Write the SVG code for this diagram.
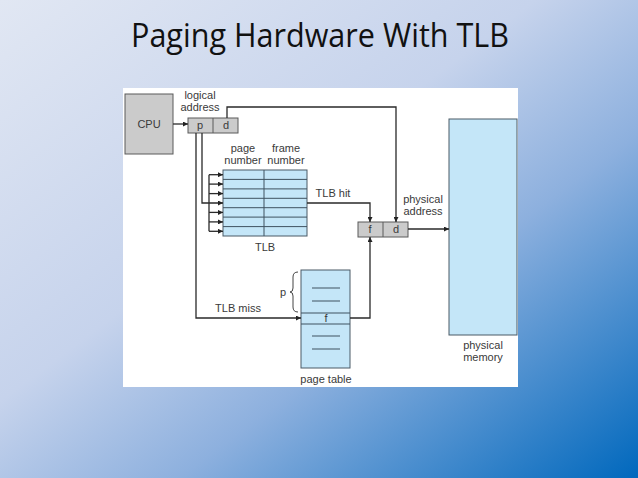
<svg xmlns="http://www.w3.org/2000/svg" width="638" height="478" viewBox="0 0 638 478">
<defs>
<linearGradient id="bg" x1="0" y1="0" x2="1" y2="1">
<stop offset="0" stop-color="#e1e7f3"/>
<stop offset="0.42" stop-color="#c6d3ec"/>
<stop offset="0.64" stop-color="#8db0de"/>
<stop offset="1" stop-color="#0068bd"/>
</linearGradient>
<marker id="ah" viewBox="0 0 10 10" refX="10" refY="5" markerWidth="5" markerHeight="5" markerUnits="userSpaceOnUse" orient="auto">
<path d="M0,0 L10,5 L0,10 z" fill="#222"/>
</marker>
<style>
.t{font-family:"Liberation Sans",Arial,sans-serif;font-size:11px;fill:#3a3a3a;text-anchor:middle}
.gray{fill:#cbcbcb;stroke:#5a5a5a;stroke-width:1}
.blue{fill:#c4e6f8;stroke:#4a5a66;stroke-width:1}
.ln{fill:none;stroke:#2a2a2a;stroke-width:1.3}
.row{stroke:#3f5260;stroke-width:1}
</style>
</defs>
<rect width="638" height="478" fill="url(#bg)"/>
<text x="320" y="47" font-family="'Open Sans','Noto Sans',sans-serif" font-size="33" fill="#111" text-anchor="middle" textLength="378" lengthAdjust="spacingAndGlyphs">Paging Hardware With TLB</text>
<rect x="123" y="88" width="395" height="299" fill="#ffffff"/>

<g id="cpu">
<rect class="gray" x="125" y="94" width="48" height="60"/>
<text class="t" x="149" y="128">CPU</text>
</g>

<g id="logical-address">
<text class="t" x="200" y="99">logical</text>
<text class="t" x="200" y="111">address</text>
<rect class="gray" x="188" y="118" width="50" height="15"/>
<line x1="213" y1="118" x2="213" y2="133" stroke="#5a5a5a"/>
<text class="t" x="200" y="129">p</text>
<text class="t" x="226" y="129">d</text>
</g>

<g id="tlb">
<text class="t" x="243" y="152">page</text>
<text class="t" x="243" y="164">number</text>
<text class="t" x="286" y="152">frame</text>
<text class="t" x="286" y="164">number</text>
<rect class="blue" x="223" y="170" width="84" height="66"/>
<line class="row" x1="223" y1="179.4" x2="307" y2="179.4"/>
<line class="row" x1="223" y1="188.9" x2="307" y2="188.9"/>
<line class="row" x1="223" y1="198.3" x2="307" y2="198.3"/>
<line class="row" x1="223" y1="207.7" x2="307" y2="207.7"/>
<line class="row" x1="223" y1="217.1" x2="307" y2="217.1"/>
<line class="row" x1="223" y1="226.6" x2="307" y2="226.6"/>
<line class="row" x1="264" y1="170" x2="264" y2="236"/>
<text class="t" x="265" y="251">TLB</text>
</g>

<g id="physical-address">
<text class="t" x="423" y="203">physical</text>
<text class="t" x="423" y="215">address</text>
<rect class="gray" x="358" y="222" width="50" height="15"/>
<line x1="383" y1="222" x2="383" y2="237" stroke="#5a5a5a"/>
<text class="t" x="370" y="233">f</text>
<text class="t" x="396" y="233">d</text>
</g>

<g id="page-table">
<rect class="blue" x="301" y="270" width="49" height="98"/>
<line class="row" x1="301" y1="313" x2="350" y2="313"/>
<line class="row" x1="301" y1="324" x2="350" y2="324"/>
<line class="row" x1="312" y1="288" x2="340" y2="288"/>
<line class="row" x1="312" y1="301" x2="340" y2="301"/>
<line class="row" x1="312" y1="336" x2="340" y2="336"/>
<line class="row" x1="312" y1="349" x2="340" y2="349"/>
<text class="t" x="326" y="322" font-size="10">f</text>
<path d="M298,272 Q293,272 293,277 L293,288 Q293,292 290,292 Q293,292 293,296 L293,307 Q293,312 298,312" fill="none" stroke="#444" stroke-width="1"/>
<text class="t" x="283" y="296">p</text>
<text class="t" x="326" y="383">page table</text>
</g>

<g id="physical-memory">
<rect class="blue" x="449" y="119" width="68" height="216"/>
<text class="t" x="483" y="349">physical</text>
<text class="t" x="483" y="361">memory</text>
</g>

<g id="connectors">
<line class="ln" x1="173" y1="124" x2="188" y2="124" marker-end="url(#ah)"/>
<polyline class="ln" points="227,118 227,107 396,107 396,222" marker-end="url(#ah)"/>
<polyline class="ln" points="202,133 202,203 223,203" marker-end="url(#ah)"/>
<line class="ln" x1="209" y1="174.7" x2="209" y2="231.3"/>
<line class="ln" x1="209" y1="174.7" x2="223" y2="174.7" marker-end="url(#ah)"/>
<line class="ln" x1="209" y1="184.1" x2="223" y2="184.1" marker-end="url(#ah)"/>
<line class="ln" x1="209" y1="193.6" x2="223" y2="193.6" marker-end="url(#ah)"/>
<line class="ln" x1="209" y1="212.4" x2="223" y2="212.4" marker-end="url(#ah)"/>
<line class="ln" x1="209" y1="221.9" x2="223" y2="221.9" marker-end="url(#ah)"/>
<line class="ln" x1="209" y1="231.3" x2="223" y2="231.3" marker-end="url(#ah)"/>
<polyline class="ln" points="196,133 196,318 301,318" marker-end="url(#ah)"/>
<polyline class="ln" points="307,203 370,203 370,222" marker-end="url(#ah)"/>
<polyline class="ln" points="350,318 370,318 370,237" marker-end="url(#ah)"/>
<line class="ln" x1="408" y1="229" x2="449" y2="229" marker-end="url(#ah)"/>
<text class="t" x="333" y="197">TLB hit</text>
<text class="t" x="238" y="312">TLB miss</text>
</g>
</svg>
